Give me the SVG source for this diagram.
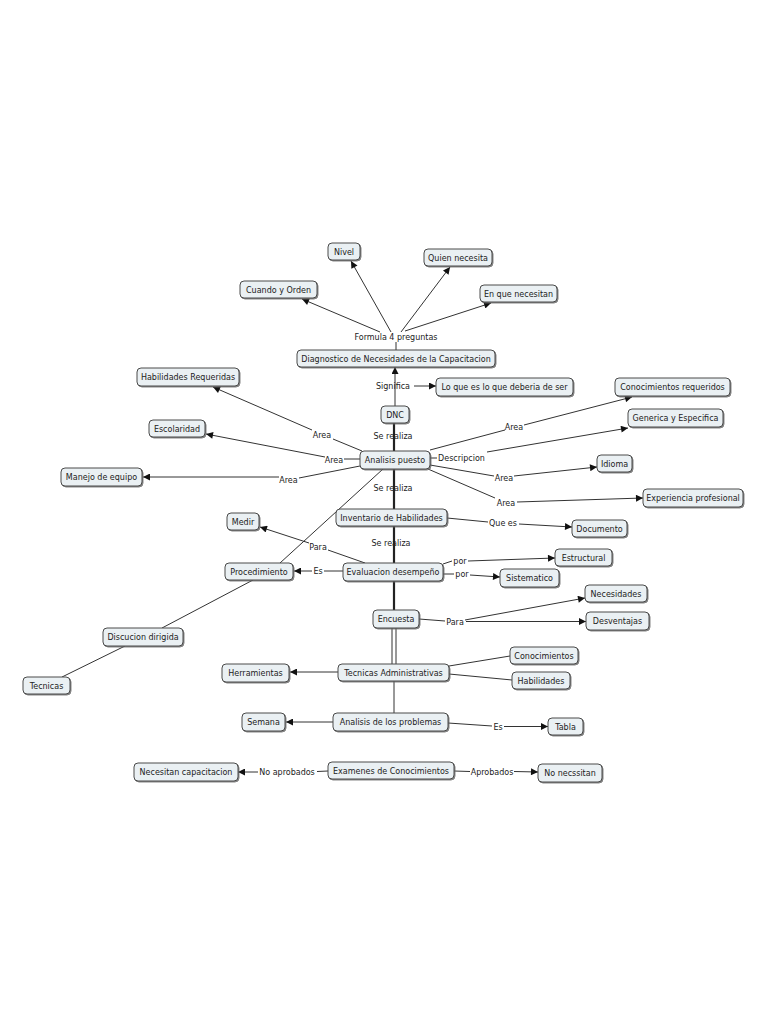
<svg xmlns="http://www.w3.org/2000/svg" width="768" height="1024" viewBox="0 0 768 1024">
<style>
.nb{fill:#eaf0f3;stroke:#4a4a4a;stroke-width:1;filter:url(#sh)}
.nt{font-family:"DejaVu Sans","Verdana",sans-serif;font-size:8px;fill:#222;text-anchor:middle}
.ln{stroke:#333;stroke-width:1;fill:none}
.ar{marker-end:url(#arr)}
.sp{stroke:#222;stroke-width:2.2;fill:none}
.lt{font-family:"DejaVu Sans","Verdana",sans-serif;font-size:8px;fill:#222;text-anchor:middle}
</style>
<defs>
<marker id="arr" viewBox="0 0 10 10" refX="10" refY="5" markerWidth="9" markerHeight="7" orient="auto" markerUnits="userSpaceOnUse">
<path d="M0,0 L10,5 L0,10 z" fill="#111"/>
</marker>
<filter id="sh" x="-10%" y="-30%" width="120%" height="160%">
<feDropShadow dx="1" dy="1" stdDeviation="0.4" flood-color="#666" flood-opacity="0.8"/>
</filter>
</defs>
<rect width="768" height="1024" fill="#fff"/>
<g id="connectors">
<line class="sp" x1="394" y1="423" x2="394" y2="610"/>
<line class="ln" x1="392" y1="628" x2="392" y2="664"/>
<line class="ln" x1="396" y1="628" x2="396" y2="664"/>
<line class="ln" x1="394" y1="681" x2="394" y2="713"/>
<line class="ln" x1="396" y1="350" x2="396" y2="342"/>
<line class="ln ar" x1="380" y1="332" x2="302" y2="299"/>
<line class="ln ar" x1="391" y1="332" x2="351" y2="261"/>
<line class="ln ar" x1="401" y1="332" x2="450" y2="267"/>
<line class="ln ar" x1="405" y1="331" x2="491" y2="303"/>
<line class="ln ar" x1="395" y1="406" x2="395" y2="367"/>
<line class="ln ar" x1="414" y1="386" x2="436" y2="386"/>
<line class="ln" x1="362" y1="451" x2="333" y2="439"/>
<line class="ln ar" x1="312" y1="430" x2="213" y2="387"/>
<line class="ln" x1="360" y1="459" x2="344" y2="459"/>
<line class="ln ar" x1="325" y1="457" x2="206" y2="434"/>
<line class="ln" x1="360" y1="466" x2="299" y2="478"/>
<line class="ln ar" x1="279" y1="477" x2="143" y2="477"/>
<line class="ln" x1="430" y1="450" x2="505" y2="430"/>
<line class="ln ar" x1="524" y1="425" x2="632" y2="397"/>
<line class="ln" x1="430" y1="458" x2="437" y2="458"/>
<line class="ln ar" x1="487" y1="452" x2="628" y2="428"/>
<line class="ln" x1="430" y1="465" x2="494" y2="476"/>
<line class="ln ar" x1="514" y1="476" x2="597" y2="467"/>
<line class="ln" x1="428" y1="469" x2="495" y2="498"/>
<line class="ln ar" x1="517" y1="502" x2="643" y2="498"/>
<line class="ln" x1="447" y1="518" x2="488" y2="522"/>
<line class="ln ar" x1="519" y1="524" x2="572" y2="527"/>
<line class="ln" x1="443" y1="564" x2="452" y2="561"/>
<line class="ln ar" x1="468" y1="561" x2="555" y2="558"/>
<line class="ln" x1="443" y1="574" x2="454" y2="574"/>
<line class="ln ar" x1="470" y1="575" x2="500" y2="577"/>
<line class="ln" x1="365" y1="563" x2="328" y2="550"/>
<line class="ln ar" x1="309" y1="543" x2="260" y2="527"/>
<line class="ln" x1="343" y1="571" x2="324" y2="571"/>
<line class="ln ar" x1="312" y1="571" x2="294" y2="571"/>
<line class="ln" x1="383" y1="469" x2="280" y2="563"/>
<line class="ln" x1="253" y1="580" x2="162" y2="628"/>
<line class="ln" x1="125" y1="646" x2="62" y2="677"/>
<line class="ln" x1="419" y1="619" x2="445" y2="621"/>
<line class="ln ar" x1="465" y1="620" x2="585" y2="598"/>
<line class="ln ar" x1="466" y1="621.5" x2="586" y2="621.5"/>
<line class="ln ar" x1="338" y1="672" x2="290" y2="672"/>
<line class="ln" x1="449" y1="666" x2="510" y2="656"/>
<line class="ln" x1="449" y1="674" x2="512" y2="680"/>
<line class="ln ar" x1="333" y1="722" x2="286" y2="722"/>
<line class="ln" x1="448" y1="723" x2="492" y2="726"/>
<line class="ln ar" x1="504" y1="726.5" x2="548" y2="726.5"/>
<line class="ln" x1="328" y1="771" x2="317" y2="771.5"/>
<line class="ln ar" x1="258" y1="772" x2="238" y2="772"/>
<line class="ln" x1="454" y1="771" x2="470" y2="771.5"/>
<line class="ln ar" x1="514" y1="771.5" x2="538" y2="772"/>
<text class="lt" x="396" y="340">Formula 4 preguntas</text>
<text class="lt" x="393" y="389">Significa</text>
<text class="lt" x="393" y="439">Se realiza</text>
<text class="lt" x="393" y="491">Se realiza</text>
<text class="lt" x="391" y="546">Se realiza</text>
<text class="lt" x="322" y="437.5">Area</text>
<text class="lt" x="334" y="463">Area</text>
<text class="lt" x="288.5" y="482.5">Area</text>
<text class="lt" x="514" y="430">Area</text>
<text class="lt" x="461.5" y="461.3">Descripcion</text>
<text class="lt" x="504" y="481">Area</text>
<text class="lt" x="506" y="505.5">Area</text>
<text class="lt" x="503" y="525.5">Que es</text>
<text class="lt" x="318" y="549.5">Para</text>
<text class="lt" x="318" y="574">Es</text>
<text class="lt" x="460" y="564">por</text>
<text class="lt" x="462" y="576.5">por</text>
<text class="lt" x="455" y="624.5">Para</text>
<text class="lt" x="498" y="729.5">Es</text>
<text class="lt" x="287" y="774.7">No aprobados</text>
<text class="lt" x="492" y="774.7">Aprobados</text>
</g>
<g id="n_nivel"><rect class="nb" x="328" y="243" width="32" height="17" rx="4"/><text class="nt" x="344" y="254.5">Nivel</text></g>
<g id="n_quien"><rect class="nb" x="424" y="249" width="68" height="17" rx="4"/><text class="nt" x="458" y="260.5">Quien necesita</text></g>
<g id="n_cuando"><rect class="nb" x="240" y="281" width="77" height="17" rx="4"/><text class="nt" x="278.5" y="292.5">Cuando y Orden</text></g>
<g id="n_enque"><rect class="nb" x="480" y="285" width="77" height="17" rx="4"/><text class="nt" x="518.5" y="296.5">En que necesitan</text></g>
<g id="n_diag"><rect class="nb" x="297" y="350" width="198" height="17" rx="4"/><text class="nt" x="396" y="361.5">Diagnostico de Necesidades de la Capacitacion</text></g>
<g id="n_habreq"><rect class="nb" x="137" y="368" width="102" height="18" rx="4"/><text class="nt" x="188" y="380">Habilidades Requeridas</text></g>
<g id="n_loque"><rect class="nb" x="436" y="378" width="137" height="18" rx="4"/><text class="nt" x="504.5" y="390">Lo que es lo que deberia de ser</text></g>
<g id="n_conreq"><rect class="nb" x="615" y="378" width="115" height="18" rx="4"/><text class="nt" x="672.5" y="390">Conocimientos requeridos</text></g>
<g id="n_escol"><rect class="nb" x="149" y="420" width="56" height="17" rx="4"/><text class="nt" x="177" y="431.5">Escolaridad</text></g>
<g id="n_dnc"><rect class="nb" x="381" y="406" width="28" height="17" rx="4"/><text class="nt" x="395" y="417.5">DNC</text></g>
<g id="n_gen"><rect class="nb" x="628" y="409" width="95" height="18" rx="4"/><text class="nt" x="675.5" y="421">Generica y Especifica</text></g>
<g id="n_anap"><rect class="nb" x="360" y="451" width="70" height="18" rx="4"/><text class="nt" x="395" y="463">Analisis puesto</text></g>
<g id="n_idioma"><rect class="nb" x="597" y="455" width="35" height="17" rx="4"/><text class="nt" x="614.5" y="466.5">Idioma</text></g>
<g id="n_manejo"><rect class="nb" x="61" y="468" width="81" height="18" rx="4"/><text class="nt" x="101.5" y="480">Manejo de equipo</text></g>
<g id="n_exp"><rect class="nb" x="643" y="489" width="100" height="18" rx="4"/><text class="nt" x="693" y="501">Experiencia profesional</text></g>
<g id="n_medir"><rect class="nb" x="227" y="513" width="32" height="17" rx="4"/><text class="nt" x="243" y="524.5">Medir</text></g>
<g id="n_inv"><rect class="nb" x="336" y="509" width="111" height="17" rx="4"/><text class="nt" x="391.5" y="520.5">Inventario de Habilidades</text></g>
<g id="n_doc"><rect class="nb" x="572" y="520" width="55" height="17" rx="4"/><text class="nt" x="599.5" y="531.5">Documento</text></g>
<g id="n_estr"><rect class="nb" x="555" y="549" width="57" height="17" rx="4"/><text class="nt" x="583.5" y="560.5">Estructural</text></g>
<g id="n_proc"><rect class="nb" x="225" y="563" width="68" height="17" rx="4"/><text class="nt" x="259" y="574.5">Procedimiento</text></g>
<g id="n_eval"><rect class="nb" x="343" y="563" width="100" height="18" rx="4"/><text class="nt" x="393" y="575">Evaluacion desempeño</text></g>
<g id="n_sist"><rect class="nb" x="500" y="569" width="59" height="18" rx="4"/><text class="nt" x="529.5" y="581">Sistematico</text></g>
<g id="n_nec"><rect class="nb" x="585" y="585" width="62" height="17" rx="4"/><text class="nt" x="616" y="596.5">Necesidades</text></g>
<g id="n_enc"><rect class="nb" x="373" y="610" width="46" height="18" rx="4"/><text class="nt" x="396" y="622">Encuesta</text></g>
<g id="n_desv"><rect class="nb" x="586" y="612" width="63" height="18" rx="4"/><text class="nt" x="617.5" y="624">Desventajas</text></g>
<g id="n_disc"><rect class="nb" x="103" y="628" width="80" height="18" rx="4"/><text class="nt" x="143" y="640">Discucion dirigida</text></g>
<g id="n_conoc"><rect class="nb" x="510" y="647" width="68" height="17" rx="4"/><text class="nt" x="544" y="658.5">Conocimientos</text></g>
<g id="n_herr"><rect class="nb" x="222" y="664" width="67" height="18" rx="4"/><text class="nt" x="255.5" y="676">Herramientas</text></g>
<g id="n_tecadm"><rect class="nb" x="338" y="664" width="111" height="17" rx="4"/><text class="nt" x="393.5" y="675.5">Tecnicas Administrativas</text></g>
<g id="n_hab"><rect class="nb" x="512" y="672" width="58" height="17" rx="4"/><text class="nt" x="541" y="683.5">Habilidades</text></g>
<g id="n_tec"><rect class="nb" x="23" y="677" width="47" height="17" rx="4"/><text class="nt" x="46.5" y="688.5">Tecnicas</text></g>
<g id="n_sem"><rect class="nb" x="242" y="713" width="43" height="18" rx="4"/><text class="nt" x="263.5" y="725">Semana</text></g>
<g id="n_anprob"><rect class="nb" x="333" y="713" width="115" height="18" rx="4"/><text class="nt" x="390.5" y="725">Analisis de los problemas</text></g>
<g id="n_tabla"><rect class="nb" x="548" y="718" width="35" height="17" rx="4"/><text class="nt" x="565.5" y="729.5">Tabla</text></g>
<g id="n_necap"><rect class="nb" x="134" y="763" width="104" height="18" rx="4"/><text class="nt" x="186" y="775">Necesitan capacitacion</text></g>
<g id="n_exam"><rect class="nb" x="328" y="762" width="126" height="17" rx="4"/><text class="nt" x="391" y="773.5">Examenes de Conocimientos</text></g>
<g id="n_nonec"><rect class="nb" x="538" y="764" width="64" height="18" rx="4"/><text class="nt" x="570" y="776">No necssitan</text></g>
</svg>
